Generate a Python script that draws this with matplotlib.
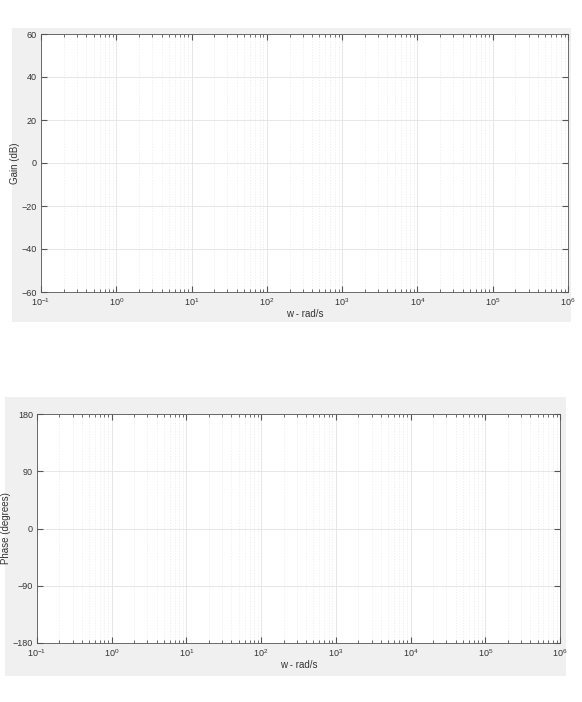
import matplotlib
matplotlib.use("Agg")
import matplotlib.pyplot as plt
from matplotlib.patches import Rectangle
from matplotlib.ticker import LogLocator, FixedLocator

plt.rcParams['font.family'] = ['Liberation Sans', 'DejaVu Sans']

W, H = 582, 702
xlim = [1e-1, 1e6]
gain_ticks = [-60, -40, -20, 0, 20, 40, 60]
phase_ticks = [-180, -90, 0, 90, 180]
xlabel = "w - rad/s"
ylabels = ["Gain (dB)", "Phase (degrees)"]

fig = plt.figure(figsize=(W/100, H/100), dpi=100)
fig.patch.set_facecolor("white")

def px(l, t, r, b):
    return [l/W, 1-b/H, (r-l)/W, (b-t)/H]

bg = fig.add_axes([0, 0, 1, 1], zorder=-10)
bg.set_xlim(0, W); bg.set_ylim(H, 0); bg.axis("off")
for (l, t, r, b) in [(12, 28, 571, 322), (5, 397, 566, 676)]:
    bg.add_patch(Rectangle((l, t), r-l, b-t, facecolor="#f0f0f0", edgecolor="none"))

axes_pos = [px(41, 34, 568, 292), px(37, 414, 560, 643)]
yticks_list = [gain_ticks, phase_ticks]
for pos, yt, yl in zip(axes_pos, yticks_list, ylabels):
    ax = fig.add_axes(pos, zorder=1)
    ax.set_facecolor("white")
    ax.set_xscale("log")
    ax.set_xlim(xlim)
    ax.set_ylim(yt[0], yt[-1])
    ax.yaxis.set_major_locator(FixedLocator(yt))
    ax.xaxis.set_major_locator(LogLocator(base=10, numticks=20))
    ax.xaxis.set_minor_locator(LogLocator(base=10, subs=range(2, 10), numticks=100))
    ax.grid(True, which="major", color="#e3e3e3", lw=0.6)
    ax.grid(True, which="minor", color="#ececec", lw=0.5, ls=(0, (2, 2)))
    ax.tick_params(which="both", direction="in", top=True, right=True,
                   labelsize=6.5, labelcolor="#333333", colors="#555555")
    ax.tick_params(which="major", length=4, pad=3)
    ax.tick_params(which="minor", length=2)
    for s in ax.spines.values():
        s.set_color("#555555"); s.set_linewidth(0.6)
    ax.set_xlabel(xlabel, fontsize=7, color="#333333", labelpad=1)
    ax.set_ylabel(yl, fontsize=7, color="#333333", labelpad=1)

fig.savefig("out.png", dpi=100)
